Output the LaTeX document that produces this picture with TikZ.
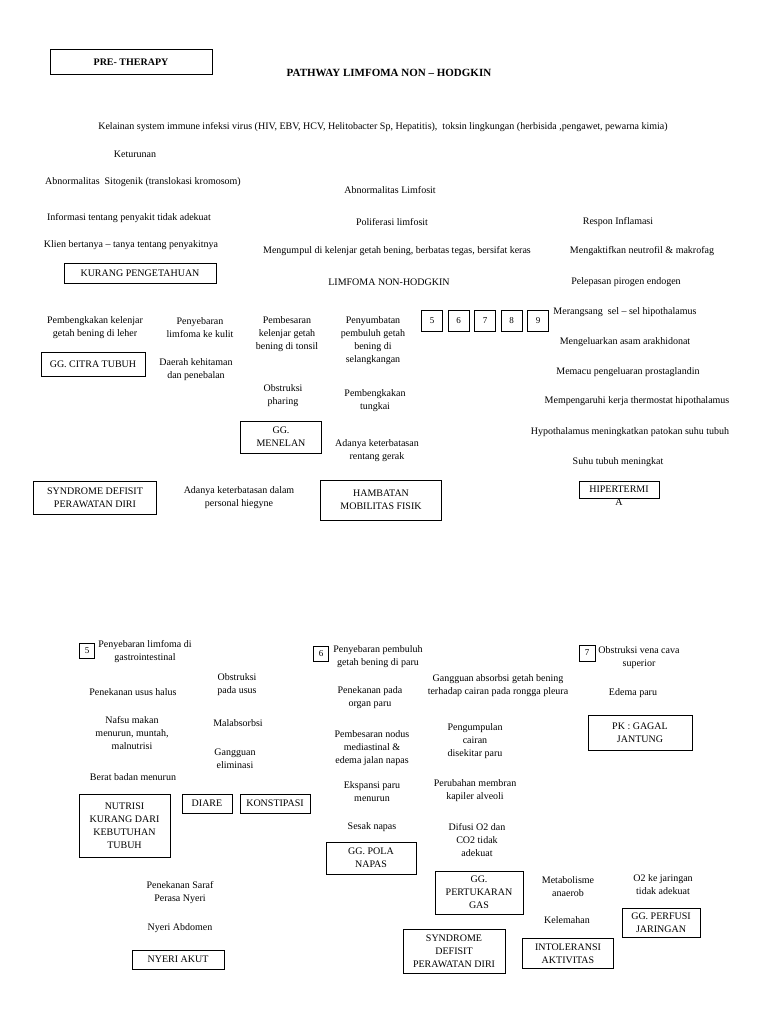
\documentclass[tikz,border=0pt]{standalone}
\usepackage{fontspec}
\setmainfont{Liberation Serif}
\usetikzlibrary{positioning}

\begin{document}
\begin{tikzpicture}[x=1pt,y=-1pt,node distance=26.5pt,
  txt/.style={align=center,font=\fontsize{10}{13}\selectfont,inner sep=1pt},
  dx/.style={draw,line width=0.9pt,align=center,font=\fontsize{10}{13}\selectfont,inner sep=1pt},
  num/.style={draw,line width=0.8pt,minimum size=21pt,inner sep=0pt,font=\fontsize{9}{10}\selectfont}]

  \useasboundingbox (0,0) rectangle (768,1024);

  % header
  \node[dx,minimum width=162pt,minimum height=25pt,font=\fontsize{10}{13}\selectfont\bfseries] (pre) at (131,62) {PRE- THERAPY};
  \node[txt,font=\fontsize{11}{13}\selectfont\bfseries] (title) at (389,73) {PATHWAY LIMFOMA NON -- HODGKIN};

  % etiologi
  \node[txt] (kel) at (383,127) {Kelainan system immune infeksi virus (HIV, EBV, HCV, Helitobacter Sp, Hepatitis), \ toksin lingkungan (herbisida ,pengawet, pewarna kimia)};
  \node[txt] (ket) at (135,154) {Keturunan};
  \node[txt] (sito) at (143,182) {Abnormalitas \ Sitogenik (translokasi kromosom)};
  \node[txt] (abn) at (390,190) {Abnormalitas Limfosit};
  \node[txt] (info) at (129,218) {Informasi tentang penyakit tidak adekuat};
  \node[txt] (pol) at (392,222) {Poliferasi limfosit};
  \node[txt] (resp) at (618,222) {Respon Inflamasi};
  \node[txt] (klien) at (131,245) {Klien bertanya -- tanya tentang penyakitnya};
  \node[txt] (kump) at (397,251) {Mengumpul di kelenjar getah bening, berbatas tegas, bersifat keras};
  \node[txt] (akt) at (642,251) {Mengaktifkan neutrofil \& makrofag};
  \node[dx,minimum width=152pt,minimum height=20pt] (kp) at (140,273) {KURANG PENGETAHUAN};
  \node[txt] (lnh) at (389,282) {LIMFOMA NON-HODGKIN};
  \node[txt] (pir) at (626,282) {Pelepasan pirogen endogen};

  % manifestasi
  \node[txt] (leher) at (95,328) {Pembengkakan kelenjar\\getah bening di leher};
  \node[txt] (kulit) at (200,328) {Penyebaran\\limfoma ke kulit};
  \node[txt] (tonsil) at (287,334) {Pembesaran\\kelenjar getah\\bening di tonsil};
  \node[txt] (selang) at (373,341) {Penyumbatan\\pembuluh getah\\bening di\\selangkangan};
  \node[num] (n5) at (432,321) {5};
  \node[num] (n6) [right of=n5] {6};
  \node[num] (n7) [right of=n6] {7};
  \node[num] (n8) [right of=n7] {8};
  \node[num] (n9) [right of=n8] {9};
  \node[txt] (rang) at (625,312) {Merangsang \ sel -- sel hipothalamus};
  \node[txt] (arak) at (625,342) {Mengeluarkan asam arakhidonat};
  \node[txt] (pros) at (628,372) {Memacu pengeluaran prostaglandin};
  \node[txt] (thermo) at (637,401) {Mempengaruhi kerja thermostat hipothalamus};
  \node[txt] (patok) at (630,432) {Hypothalamus meningkatkan patokan suhu tubuh};
  \node[txt] (suhu) at (618,462) {Suhu tubuh meningkat};

  \node[dx,minimum width=104pt,minimum height=24pt] (citra) at (93,364) {GG. CITRA TUBUH};
  \node[txt] (hitam) at (196,370) {Daerah kehitaman\\dan penebalan};
  \node[txt] (phar) at (283,396) {Obstruksi\\pharing};
  \node[txt] (tungkai) at (375,401) {Pembengkakan\\tungkai};
  \node[dx,minimum width=81pt,minimum height=32pt] (telan) at (281,437) {GG.\\MENELAN};
  \node[txt] (gerak) at (377,451) {Adanya keterbatasan\\rentang gerak};
  \node[dx,minimum width=123pt,minimum height=33pt] (sdp) at (95,498) {SYNDROME DEFISIT\\PERAWATAN DIRI};
  \node[txt] (hieg) at (239,498) {Adanya keterbatasan dalam\\personal hiegyne};
  \node[dx,minimum width=121pt,minimum height=40pt] (hmf) at (381,500) {HAMBATAN\\MOBILITAS FISIK};
  \node[dx,minimum width=80pt,minimum height=17pt,label={[txt,inner sep=0pt]below:A}] (hiper) at (619,489.5) {HIPERTERMI};

  % 5 : gastrointestinal
  \node[num,minimum size=15pt] (b5) at (87,651) {5};
  \node[txt] (gastro) at (145,652) {Penyebaran limfoma di\\gastrointestinal};
  \node[txt] (halus) at (133,692) {Penekanan usus halus};
  \node[txt] (usus) at (237,685) {Obstruksi\\pada usus};
  \node[txt] (nafsu) at (132,733) {Nafsu makan\\menurun, muntah,\\malnutrisi};
  \node[txt] (mal) at (238,723) {Malabsorbsi};
  \node[txt] (elim) at (235,759) {Gangguan\\eliminasi};
  \node[txt] (berat) at (133,777) {Berat badan menurun};
  \node[dx,minimum width=91pt,minimum height=63pt] (nutri) at (124.5,825.5) {NUTRISI\\KURANG DARI\\KEBUTUHAN\\TUBUH};
  \node[dx,minimum width=50pt,minimum height=19pt] (diare) at (207,803.5) {DIARE};
  \node[dx,minimum width=70pt,minimum height=19pt] (konst) at (275,803.5) {KONSTIPASI};
  \node[txt] (saraf) at (180,893) {Penekanan Saraf\\Perasa Nyeri};
  \node[txt] (abdo) at (180,928) {Nyeri Abdomen};
  \node[dx,minimum width=92pt,minimum height=19pt] (nyeri) at (178,959.5) {NYERI AKUT};

  % 6 : paru
  \node[num,minimum size=15pt] (b6) at (321,654) {6};
  \node[txt] (paru) at (378,657) {Penyebaran pembuluh\\getah bening di paru};
  \node[txt] (pleura) at (498,686) {Gangguan absorbsi getah bening\\terhadap cairan pada rongga pleura};
  \node[txt] (organ) at (370,698) {Penekanan pada\\organ paru};
  \node[txt] (nodus) at (372,748) {Pembesaran nodus\\mediastinal \&\\edema jalan napas};
  \node[txt] (cairan) at (475,741) {Pengumpulan\\cairan\\disekitar paru};
  \node[txt] (ekspansi) at (372,792) {Ekspansi paru\\menurun};
  \node[txt] (membran) at (475,791) {Perubahan membran\\kapiler alveoli};
  \node[txt] (sesak) at (372,827) {Sesak napas};
  \node[txt] (difusi) at (477,840) {Difusi O2 dan\\CO2 tidak\\adekuat};
  \node[dx,minimum width=90pt,minimum height=32pt] (pola) at (371,858) {GG. POLA\\NAPAS};
  \node[dx,minimum width=88pt,minimum height=43pt] (tukar) at (479,892.5) {GG.\\PERTUKARAN\\GAS};
  \node[txt] (anaerob) at (568,887) {Metabolisme\\anaerob};
  \node[txt] (lemah) at (567,920) {Kelemahan};
  \node[txt] (oksi) at (663,885) {O2 ke jaringan\\tidak adekuat};
  \node[dx,minimum width=78pt,minimum height=29pt] (perfusi) at (661,922.5) {GG. PERFUSI\\JARINGAN};
  \node[dx,minimum width=102pt,minimum height=44pt] (sdp2) at (454,951.5) {SYNDROME\\DEFISIT\\PERAWATAN DIRI};
  \node[dx,minimum width=91pt,minimum height=30pt] (intol) at (568,953.5) {INTOLERANSI\\AKTIVITAS};

  % 7 : vena cava
  \node[num,minimum size=16pt] (b7) at (587,653) {7};
  \node[txt] (cava) at (639,658) {Obstruksi vena cava\\superior};
  \node[txt] (edema) at (633,693) {Edema paru};
  \node[dx,minimum width=104pt,minimum height=35pt] (gagal) at (640,732.5) {PK : GAGAL\\JANTUNG};

\end{tikzpicture}
\end{document}
